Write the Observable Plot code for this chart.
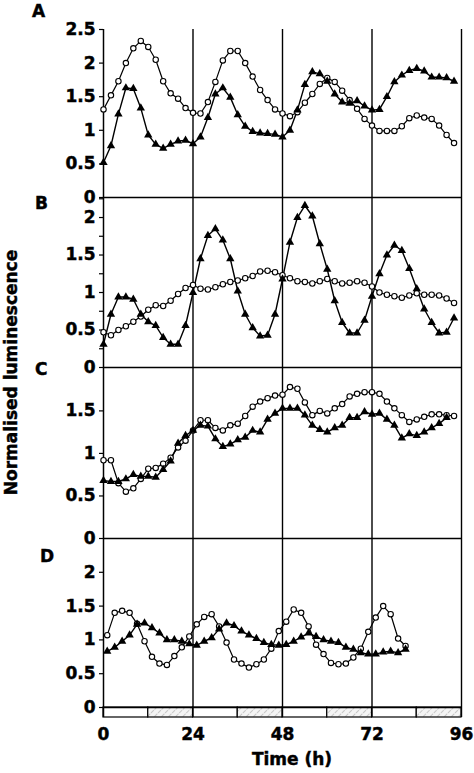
<!DOCTYPE html>
<html><head><meta charset="utf-8">
<script src="https://cdn.jsdelivr.net/npm/d3@7"></script>
<script src="https://cdn.jsdelivr.net/npm/@observablehq/plot@0.6"></script>
<style>
body{margin:0;background:#fff;}
#chart{position:relative;width:474px;height:773px;font-family:"DejaVu Sans",sans-serif;font-weight:bold;color:#000;overflow:hidden;}
#chart svg{position:absolute;left:0;}
#chart svg text{stroke:#000;stroke-width:0.45px;}
.lab{position:absolute;font-size:17px;line-height:17px;white-space:nowrap;font-weight:bold;-webkit-text-stroke:0.45px #000;}
</style></head><body>
<div id="chart"></div>
<script>
// ---- sampling times (h) ----
const hours = [0,2,4,6,8,10,12,14,16,18,20,22,24,26,28,30,32,34,36,38,40,42,44,46,48,50,52,54,56,58,60,62,64,66,68,70,72,74,76,78,80,82,84,86,88,90,92,94];
const hoursCtri = hours.slice(0, 47);
const hoursD = [1,3,5,7,9,11,13,15,17,19,21,23,25,27,29,31,33,35,37,39,41,43,45,47,49,51,53,55,57,59,61,63,65,67,69,71,73,75,77,79,81];

// ---- panel A ----
const aCircle = [1.31,1.52,1.73,2.00,2.22,2.33,2.24,2.05,1.73,1.55,1.47,1.33,1.26,1.25,1.42,1.72,2.04,2.18,2.18,2.00,1.80,1.60,1.45,1.31,1.25,1.21,1.27,1.41,1.54,1.69,1.78,1.72,1.59,1.45,1.32,1.17,1.07,0.99,0.99,0.99,1.06,1.18,1.22,1.19,1.17,1.07,0.93,0.81];
const aTri = [0.52,0.77,1.24,1.63,1.62,1.33,0.93,0.79,0.73,0.79,0.84,0.85,0.80,0.90,1.19,1.54,1.63,1.49,1.23,1.06,0.98,0.96,0.95,0.94,0.90,1.00,1.30,1.68,1.87,1.84,1.73,1.54,1.42,1.40,1.44,1.36,1.30,1.31,1.50,1.72,1.82,1.89,1.92,1.88,1.79,1.79,1.78,1.73];
// ---- panel B ----
const bCircle = [0.47,0.43,0.50,0.55,0.61,0.68,0.77,0.83,0.82,0.89,0.98,1.06,1.10,1.05,1.04,1.07,1.11,1.14,1.16,1.19,1.22,1.28,1.29,1.27,1.23,1.19,1.15,1.14,1.12,1.15,1.18,1.15,1.12,1.13,1.15,1.13,1.08,1.00,0.97,0.95,0.93,0.96,0.99,0.97,0.97,0.96,0.92,0.86];
const bTri = [0.31,0.71,0.94,0.94,0.91,0.71,0.61,0.56,0.40,0.31,0.31,0.56,1.00,1.45,1.76,1.85,1.70,1.45,1.02,0.71,0.53,0.42,0.43,0.71,1.18,1.67,2.00,2.16,2.02,1.65,1.31,0.89,0.60,0.46,0.46,0.63,0.95,1.25,1.50,1.63,1.56,1.32,1.05,0.78,0.60,0.46,0.47,0.66];
// ---- panel C ----
const cCircle = [0.92,0.92,0.65,0.55,0.59,0.70,0.82,0.83,0.88,0.95,1.07,1.15,1.27,1.39,1.39,1.30,1.27,1.33,1.35,1.44,1.55,1.61,1.65,1.68,1.69,1.78,1.76,1.60,1.45,1.50,1.47,1.53,1.58,1.67,1.70,1.72,1.72,1.70,1.61,1.53,1.45,1.37,1.40,1.43,1.46,1.46,1.45,1.44];
const cTri = [0.68,0.67,0.67,0.70,0.75,0.73,0.73,0.72,0.81,0.91,1.12,1.21,1.27,1.33,1.32,1.17,1.08,1.11,1.16,1.19,1.27,1.25,1.40,1.47,1.53,1.53,1.53,1.45,1.33,1.28,1.25,1.30,1.33,1.42,1.42,1.49,1.46,1.47,1.40,1.33,1.18,1.23,1.21,1.25,1.30,1.35,1.42];
// ---- panel D ----
const dCircle = [1.07,1.40,1.43,1.40,1.24,0.98,0.75,0.65,0.63,0.76,0.89,1.05,1.23,1.34,1.38,1.20,0.96,0.71,0.65,0.59,0.64,0.71,0.87,1.13,1.27,1.45,1.40,1.20,0.93,0.79,0.66,0.64,0.65,0.74,0.87,1.12,1.33,1.50,1.38,1.02,0.91];
const dTri = [0.83,0.89,0.98,1.07,1.23,1.25,1.18,1.10,1.00,1.00,0.98,0.94,0.92,0.98,1.03,1.16,1.25,1.21,1.13,1.07,1.02,0.96,0.93,0.92,0.93,0.98,1.04,1.10,1.05,1.00,0.98,0.96,0.89,0.86,0.81,0.79,0.79,0.82,0.83,0.81,0.86];

// ---- axes / annotations ----
const xTicks = [0,24,48,72,96];
const dayLines = [24,48,72,96];
const lightStart = [0,24,48,72];
const darkStart = [12,36,60,84];
const phaseLength = 12;
const ticksA = [0,0.5,1,1.5,2,2.5];
const ticksB = [0,0.25,0.5,0.75,1,1.25,1.5,1.75,2,2.25];
const labelsB = [0,0.5,1,1.5,2];
const ticksC = [0,0.5,1,1.5];
const ticksD = [0,0.5,1,1.5,2];
const panelLetters = ["A","B","C","D"];

const chart = document.getElementById("chart");

function series(h, v) { return h.map((t, i) => ({t, v: v[i]})); }

function panel({top, plotH, mt, mb, ymax, ticks, labels, circ, tri, last}) {
  const barLow = -10 / (plotH / ymax);
  const marks = [
    Plot.ruleX(dayLines, {y1: last ? barLow : 0, y2: ymax, stroke: "black", strokeWidth: 1.4}),
    Plot.ruleX([0], {y1: last ? barLow : 0, y2: ymax, stroke: "black", strokeWidth: 1.5}),
    Plot.ruleY([0], {stroke: "black", strokeWidth: 1.5}),
    Plot.axisY({ticks, tickFormat: d => labels.includes(d) ? String(d) : "", tickSize: 4, tickPadding: 4, label: null, fontSize: 17, fontWeight: "bold", stroke: "black", strokeWidth: 1.2}),
    Plot.line(circ, {x: "t", y: "v", stroke: "black", strokeWidth: 1.2}),
    Plot.line(tri, {x: "t", y: "v", stroke: "black", strokeWidth: 1.4}),
    Plot.dot(circ, {x: "t", y: "v", r: 2.7, fill: "white", stroke: "black", strokeWidth: 1.1}),
    Plot.dot(tri, {x: "t", y: "v", r: 3.1, symbol: "triangle", fill: "black", stroke: "none"})
  ];
  if (last) {
    const segs = lightStart.map(s => ({x1: s, x2: s + phaseLength, dark: false}))
      .concat(darkStart.map(s => ({x1: s, x2: s + phaseLength, dark: true})));
    marks.unshift(Plot.rect(segs, {x1: "x1", x2: "x2", y1: barLow, y2: 0, fill: d => d.dark ? "url(#hatch)" : "white", stroke: "black", strokeWidth: 1.2}));
    marks.push(Plot.axisX({ticks: xTicks, tickSize: 0, tickPadding: 20, label: null, fontSize: 17, fontWeight: "bold"}));
  }
  const svg = Plot.plot({
    width: 474, height: mt + plotH + mb,
    marginLeft: 103, marginRight: 13, marginTop: mt, marginBottom: mb,
    x: {domain: [0, 96], axis: last ? undefined : null},
    y: {domain: [0, ymax]},
    style: {background: "transparent", overflow: "visible", fontFamily: "'DejaVu Sans', sans-serif", color: "black"},
    marks
  });
  if (last) {
    const ns = "http://www.w3.org/2000/svg";
    const defs = document.createElementNS(ns, "defs");
    defs.innerHTML = '<pattern id="hatch" patternUnits="userSpaceOnUse" width="5" height="5" patternTransform="rotate(45)"><rect width="5" height="5" fill="#f4f4f4"/><line x1="0" y1="0" x2="0" y2="5" stroke="#aaa" stroke-width="1.2" stroke-dasharray="2 1"/></pattern>';
    svg.insertBefore(defs, svg.firstChild);
  }
  svg.style.top = (top - mt) + "px";
  chart.appendChild(svg);
}

panel({top: 29, plotH: 168, mt: 29, mb: 0, ymax: 2.5, ticks: ticksA, labels: ticksA, circ: series(hours, aCircle), tri: series(hours, aTri)});
panel({top: 197, plotH: 170, mt: 0, mb: 0, ymax: 2.267, ticks: ticksB, labels: labelsB, circ: series(hours, bCircle), tri: series(hours, bTri)});
panel({top: 367, plotH: 171, mt: 0, mb: 0, ymax: 2.01, ticks: ticksC, labels: ticksC, circ: series(hours, cCircle), tri: series(hoursCtri, cTri)});
panel({top: 538, plotH: 169, mt: 0, mb: 66, ymax: 2.5, ticks: ticksD, labels: ticksD, circ: series(hoursD, dCircle), tri: series(hoursD, dTri), last: true});

// letters and titles
const letterPos = [[32, 3], [35, 195], [35, 361], [40, 548]];
panelLetters.forEach((L, i) => {
  const d = document.createElement("div");
  d.className = "lab"; d.textContent = L;
  d.style.left = letterPos[i][0] + "px"; d.style.top = letterPos[i][1] + "px";
  chart.appendChild(d);
});
const xl = document.createElement("div");
xl.className = "lab"; xl.textContent = "Time (h)";
xl.style.left = "192px"; xl.style.width = "200px"; xl.style.textAlign = "center"; xl.style.top = "751px";
chart.appendChild(xl);
const yl = document.createElement("div");
yl.className = "lab"; yl.textContent = "Normalised luminescence";
yl.style.left = (11 - 150) + "px"; yl.style.width = "300px"; yl.style.textAlign = "center";
yl.style.top = (372 - 8.5) + "px"; yl.style.height = "17px";
yl.style.transform = "rotate(-90deg)"; yl.style.transformOrigin = "50% 50%";
chart.appendChild(yl);
</script>
</body></html>
